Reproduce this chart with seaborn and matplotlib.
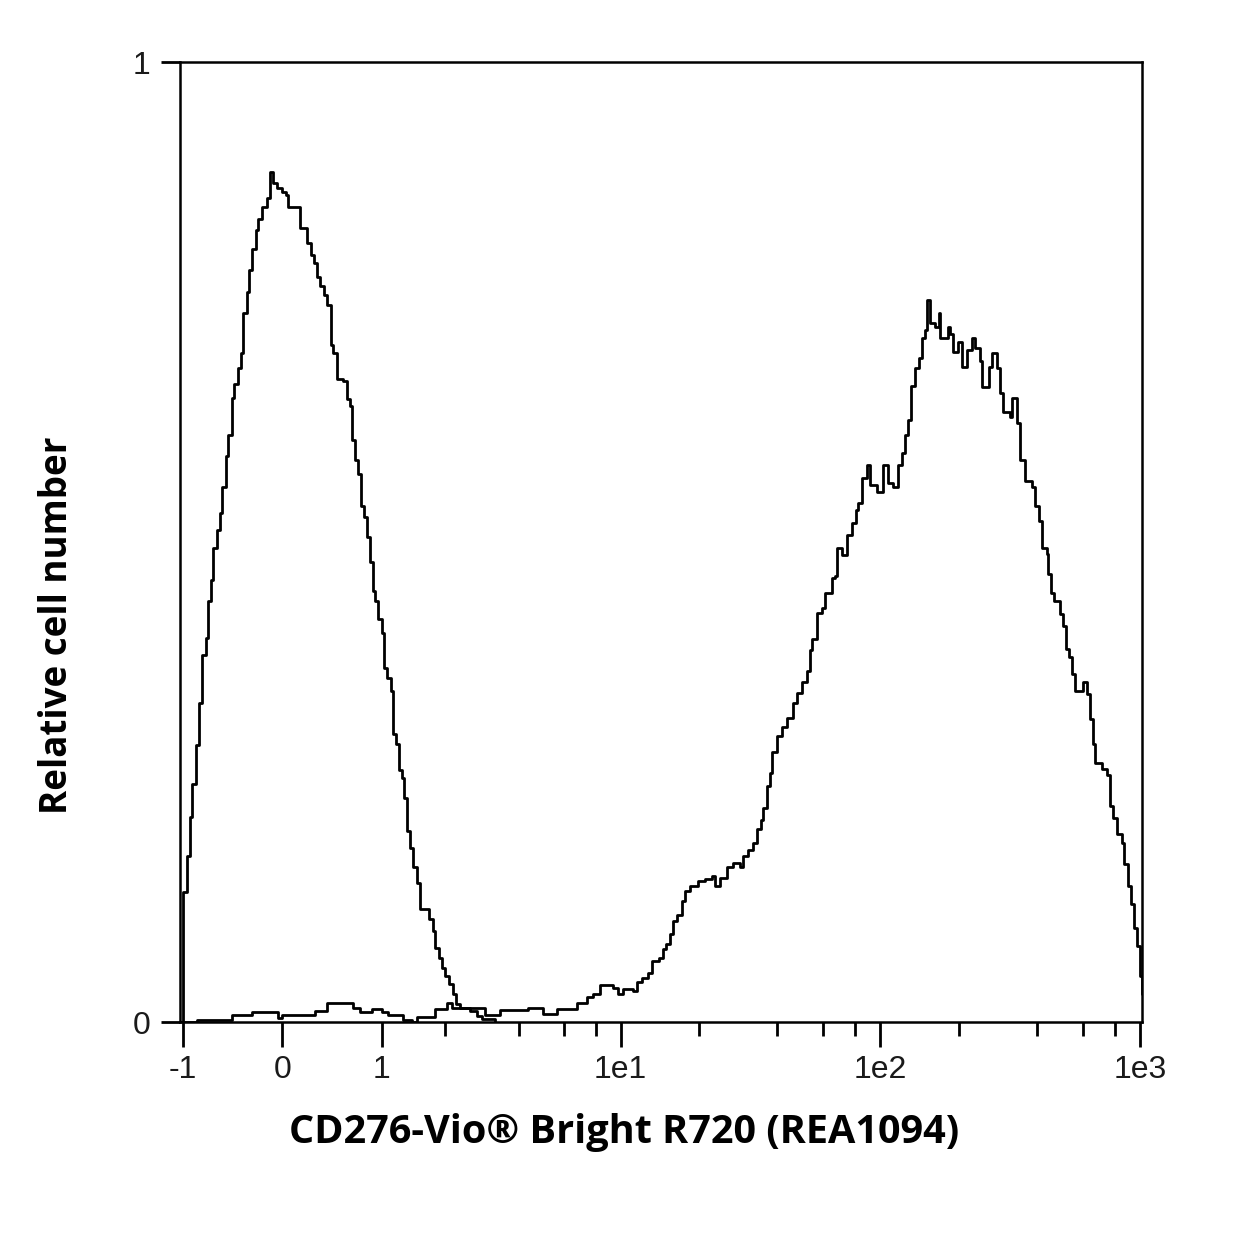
"""
Flow cytometry histogram: CD276-Vio Bright R720 (REA1094) staining
vs. unstained control, drawn on a biexponential-like (asinh) x axis.
"""
import matplotlib
matplotlib.use("Agg")
import matplotlib.pyplot as plt
from matplotlib.ticker import NullFormatter
import seaborn as sns

# control population (left peak), fluorescence vs relative cell number
control_x = [-1.03, -1.00, -0.944, -0.908, -0.884, -0.838, -0.803, -0.769, -0.725, -0.703,
             -0.671, -0.650, -0.608, -0.577, -0.557, -0.517, -0.497, -0.458, -0.438, -0.400,
             -0.371, -0.352, -0.315, -0.296, -0.269, -0.232, -0.214, -0.178, -0.133, -0.107,
             -0.080, -0.044, 0.000, 0.035, 0.053, 0.160, 0.223, 0.260, 0.287, 0.315,
             0.343, 0.381, 0.409, 0.448, 0.467, 0.507, 0.567, 0.608, 0.639, 0.661,
             0.693, 0.725, 0.758, 0.792, 0.826, 0.861, 0.896, 0.920, 0.957, 1.00,
             1.03, 1.07, 1.12, 1.15, 1.19, 1.23, 1.27, 1.30, 1.35, 1.39,
             1.44, 1.50, 1.55, 1.70, 1.76, 1.81, 1.87, 1.94, 2.00, 2.08,
             2.16, 2.23, 2.32, 2.55, 2.72, 2.85, 3.22]
control_y = [0.0, 0.135, 0.173, 0.214, 0.248, 0.289, 0.332, 0.382, 0.400, 0.439,
             0.460, 0.494, 0.512, 0.530, 0.557, 0.590, 0.611, 0.650, 0.665, 0.681,
             0.697, 0.739, 0.760, 0.783, 0.805, 0.825, 0.836, 0.849, 0.858, 0.885,
             0.874, 0.869, 0.865, 0.861, 0.849, 0.827, 0.811, 0.799, 0.791, 0.776,
             0.767, 0.757, 0.747, 0.705, 0.697, 0.670, 0.668, 0.649, 0.642, 0.606,
             0.585, 0.571, 0.538, 0.526, 0.505, 0.479, 0.449, 0.439, 0.420, 0.405,
             0.369, 0.358, 0.345, 0.300, 0.290, 0.262, 0.254, 0.233, 0.199, 0.181,
             0.161, 0.145, 0.118, 0.107, 0.095, 0.077, 0.067, 0.056, 0.048, 0.040,
             0.029, 0.019, 0.015, 0.011, 0.006, 0.003, 0.0]

# CD276 stained population (right peak)
stained_x = [-1.03, -0.826, -0.458, -0.269, -0.035, 0.0, 0.297, 0.409, 0.671, 0.747,
             0.884, 1.00, 1.08, 1.29, 1.42, 1.50, 1.81, 2.04, 2.14, 2.94,
             3.38, 4.36, 5.00, 5.67, 6.78, 7.42, 7.83, 8.33, 9.35, 9.78,
             10.2, 11.2, 11.6, 12.1, 12.8, 13.2, 14.0, 14.5, 14.9, 15.5,
             15.9, 16.5, 17.3, 17.7, 18.5, 19.9, 21.2, 22.5, 23.1, 24.2,
             25.7, 27.1, 28.9, 29.7, 31.0, 32.4, 33.6, 34.8, 35.4, 36.7,
             37.7, 38.3, 40.1, 41.9, 43.8, 46.2, 47.9, 50.0, 52.3, 53.7,
             54.7, 57.1, 59.7, 61.3, 65.3, 67.0, 68.2, 71.3, 74.5, 77.9,
             80.7, 82.2, 85.1, 89.0, 91.4, 97.2, 102.5, 107.2, 112.0, 117.1,
             121.3, 124.6, 127.9, 131.4, 136.1, 141.0, 144.8, 148.7, 151.4, 155.5,
             162.5, 168.4, 169.9, 182.3, 185.6, 190.6, 199.2, 206.4, 215.8, 225.5,
             231.6, 242.1, 246.4, 262.2, 269.3, 281.4, 289.0, 296.8, 315.8, 321.4,
             336.0, 345.0, 360.6, 383.7, 394.0, 408.3, 419.2, 438.2, 442.1, 454.0,
             466.3, 491.7, 505.0, 518.6, 532.5, 546.8, 561.6, 602.8, 624.6, 641.4,
             658.7, 670.4, 713.3, 745.6, 765.7, 786.3, 814.6, 851.5, 866.8, 898.1,
             922.2, 947.1, 972.6, 998.7, 1016.0]
stained_y = [0.0, 0.002, 0.007, 0.010, 0.004, 0.007, 0.011, 0.020, 0.015, 0.010,
             0.014, 0.010, 0.007, 0.002, 0.0, 0.005, 0.014, 0.020, 0.015, 0.007,
             0.012, 0.015, 0.008, 0.014, 0.020, 0.026, 0.029, 0.039, 0.035, 0.029,
             0.034, 0.032, 0.042, 0.046, 0.051, 0.064, 0.067, 0.076, 0.081, 0.092,
             0.105, 0.111, 0.126, 0.136, 0.142, 0.147, 0.149, 0.152, 0.142, 0.150,
             0.161, 0.166, 0.161, 0.173, 0.179, 0.186, 0.201, 0.210, 0.223, 0.246,
             0.259, 0.281, 0.298, 0.307, 0.317, 0.332, 0.343, 0.354, 0.366, 0.387,
             0.399, 0.426, 0.431, 0.447, 0.463, 0.465, 0.494, 0.486, 0.507, 0.520,
             0.533, 0.541, 0.567, 0.580, 0.559, 0.552, 0.580, 0.561, 0.557, 0.580,
             0.593, 0.611, 0.627, 0.663, 0.681, 0.692, 0.713, 0.721, 0.752, 0.728,
             0.724, 0.739, 0.713, 0.724, 0.717, 0.698, 0.708, 0.682, 0.700, 0.713,
             0.702, 0.689, 0.661, 0.682, 0.697, 0.681, 0.655, 0.635, 0.630, 0.650,
             0.624, 0.585, 0.564, 0.557, 0.538, 0.522, 0.494, 0.488, 0.467, 0.447,
             0.439, 0.425, 0.413, 0.389, 0.380, 0.363, 0.345, 0.354, 0.342, 0.316,
             0.290, 0.270, 0.264, 0.257, 0.225, 0.213, 0.196, 0.186, 0.165, 0.142,
             0.123, 0.098, 0.079, 0.048, 0.029]

major_ticks = [-1, 0, 1, 10, 100, 1000]
major_labels = ["-1", "0", "1", "1e1", "1e2", "1e3"]
minor_ticks = [2, 4, 6, 8, 20, 40, 60, 80, 200, 400, 600, 800]
y_ticks = [0, 1]
y_labels = ["0", "1"]

x_label = "CD276-Vio® Bright R720 (REA1094)"
y_label = "Relative cell number"


def main():
    sns.set_style("ticks")
    plt.rcParams["font.family"] = ["Liberation Sans", "DejaVu Sans"]
    plt.rcParams["text.color"] = "black"

    fig = plt.figure(figsize=(12.5, 12.5), dpi=100, facecolor="white")
    ax = fig.add_axes([0.144, 0.1824, 0.7696, 0.768])

    for xs, ys in [(control_x, control_y), (stained_x, stained_y)]:
        sns.lineplot(x=xs, y=ys, ax=ax, color="black", lw=2.0,
                     drawstyle="steps-post", estimator=None, sort=False)

    ax.set_xscale("asinh", linear_width=1)
    ax.set_xlim(-1.036, 1016)
    ax.set_ylim(0, 1)

    ax.set_xticks(major_ticks)
    ax.set_xticklabels(major_labels)
    ax.set_xticks(minor_ticks, minor=True)
    ax.xaxis.set_minor_formatter(NullFormatter())
    ax.set_yticks(y_ticks)
    ax.set_yticklabels(y_labels)

    for side in ["left", "right", "top", "bottom"]:
        ax.spines[side].set_visible(True)
        ax.spines[side].set_linewidth(1.8)
        ax.spines[side].set_color("black")

    ax.tick_params(axis="x", which="major", length=18, width=2, pad=6,
                   labelsize=23, labelcolor="#1a1a1a", color="black")
    ax.tick_params(axis="x", which="minor", length=10, width=2, color="black")
    ax.tick_params(axis="y", which="major", length=14, width=2, pad=7,
                   labelsize=23, labelcolor="#1a1a1a", color="black")
    ax.set_xlabel("")
    ax.set_ylabel("")

    fig.text(624 / 1250, 1 - 1132 / 1250, x_label, ha="center", va="center",
             fontsize=28.5, fontweight="bold", color="black",
             family=["Open Sans", "DejaVu Sans"])
    fig.text(57 / 1250, 1 - 625 / 1250, y_label, ha="center", va="center",
             rotation=90, fontsize=26.5, fontweight="bold", color="black",
             family=["Open Sans", "DejaVu Sans"])

    fig.savefig("out.png", dpi=100, facecolor="white")
    plt.close(fig)


if __name__ == "__main__":
    main()
